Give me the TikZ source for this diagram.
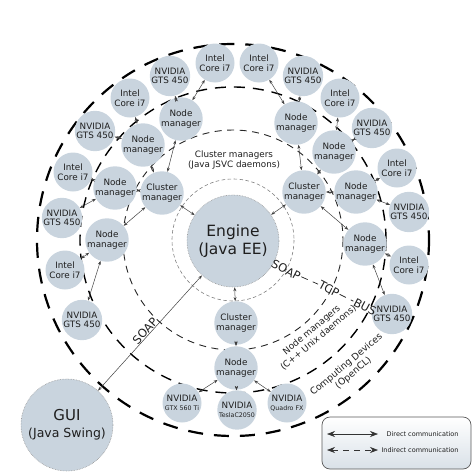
\documentclass[tikz,border=0pt]{standalone}
\usepackage{fontspec}
\setmainfont{DejaVu Sans}
\usetikzlibrary{arrows.meta}
\definecolor{nfill}{HTML}{C9D4DE}
\definecolor{txt}{HTML}{1E1E1E}
\begin{document}
\begin{tikzpicture}[x=1pt,y=-1pt,
  dev/.style={circle,fill=nfill,minimum size=39pt,inner sep=0pt,align=center,text=txt,font=\fontsize{8.8}{9.6}\selectfont},
  big/.style={circle,fill=nfill,draw=gray!80,densely dotted,line width=0.6pt,minimum size=92pt,inner sep=0pt,align=center,text=txt},
  link/.style={draw=black!75,line width=0.5pt,{Stealth[length=4pt,width=3pt]}-{Stealth[length=4pt,width=3pt]}},
  legarrow/.style={draw=black!80,line width=0.6pt,{Stealth[length=8pt,width=6pt]}-{Stealth[length=8pt,width=6pt]}},
  ringA/.style={draw=gray,line width=0.6pt,dash pattern=on 3.5pt off 2.5pt},
  ringB/.style={draw=black!85,line width=0.9pt,dash pattern=on 7pt off 5.5pt},
  ringC/.style={draw=black,line width=1.4pt,dash pattern=on 11pt off 8pt},
  ringD/.style={draw=black,line width=2.2pt,dash pattern=on 15pt off 11pt},
  lbl/.style={text=txt,font=\fontsize{11.5}{13}\selectfont,inner sep=1pt},
  rlabel/.style={text=txt,align=center,font=\fontsize{9}{10.5}\selectfont}
]
\useasboundingbox (0,0) rectangle (474,474);

% rings
\coordinate (c0) at (233,240);
\draw[ringA] (c0) circle[radius=61];
\draw[ringB] (c0) circle[radius=110];
\draw[ringC] (c0) circle[radius=153];
\draw[ringD] (c0) circle[radius=196];

% engine and GUI
\node[big,font=\fontsize{15.5}{18}\selectfont] (eng) at (233,241) {Engine\\(Java EE)};
\node[big,font=\fontsize{12.5}{17}\selectfont] (gui) at (67,425) {{\fontsize{15}{17}\selectfont GUI}\\(Java Swing)};

% cluster managers
\node[dev] (cmL) at (162,193) {Cluster\\manager};
\node[dev] (cmR) at (304,192) {Cluster\\manager};
\node[dev] (cmB) at (236,323) {Cluster\\manager};

% node managers
\node[dev] (nm1) at (181,119) {Node\\manager};
\node[dev] (nm2) at (143,145) {Node\\manager};
\node[dev] (nm3) at (115,188) {Node\\manager};
\node[dev] (nm4) at (107,240) {Node\\manager};
\node[dev] (nm5) at (296,123) {Node\\manager};
\node[dev] (nm6) at (334,152) {Node\\manager};
\node[dev] (nm7) at (356,192) {Node\\manager};
\node[dev] (nm8) at (365,244) {Node\\manager};
\node[dev] (nm9) at (236,368) {Node\\manager};

% devices
\node[dev] (d1a) at (215,63) {Intel\\Core i7};
\node[dev] (d1b) at (170,76) {NVIDIA\\GTS 450};
\node[dev] (d2a) at (130,98) {Intel\\Core i7};
\node[dev] (d2b) at (95,131) {NVIDIA\\GTS 450};
\node[dev] (d3a) at (73,172) {Intel\\Core i7};
\node[dev] (d3b) at (62,218) {NVIDIA\\GTS 450};
\node[dev] (d4a) at (65,270) {Intel\\Core i7};
\node[dev] (d4b) at (82,320) {NVIDIA\\GTS 450};
\node[dev] (d5a) at (259,63) {Intel\\Core i7};
\node[dev] (d5b) at (303,76) {NVIDIA\\GTS 450};
\node[dev] (d6a) at (340,98) {Intel\\Core i7};
\node[dev] (d6b) at (372,128) {NVIDIA\\GTS 450};
\node[dev] (d7a) at (397,168) {Intel\\Core i7};
\node[dev] (d7b) at (409,212) {NVIDIA\\GTS 450};
\node[dev] (d8a) at (409,265) {Intel\\Core i7};
\node[dev] (d8b) at (392,314) {NVIDIA\\GTS 450};
\node[dev] (d9a) at (182,403) {NVIDIA\\{\fontsize{6.3}{7}\selectfont GTX 560 Ti}};
\node[dev] (d9b) at (237,410) {NVIDIA\\{\fontsize{6.3}{7}\selectfont TeslaC2050}};
\node[dev] (d9c) at (287,403) {NVIDIA\\{\fontsize{6.3}{7}\selectfont Quadro FX}};

% links
\draw[link] (gui) -- (eng);
\foreach \c in {cmL,cmR,cmB} \draw[link] (eng) -- (\c);
\foreach \n in {nm1,nm2,nm3,nm4} \draw[link] (cmL) -- (\n);
\foreach \n in {nm5,nm6,nm7,nm8} \draw[link] (cmR) -- (\n);
\draw[link] (cmB) -- (nm9);
\foreach \n/\a/\b in {nm1/d1a/d1b,nm2/d2a/d2b,nm3/d3a/d3b,nm4/d4a/d4b,nm5/d5a/d5b,nm6/d6a/d6b,nm7/d7a/d7b,nm8/d8a/d8b}{
  \draw[link] (\n) -- (\a);
  \draw[link] (\n) -- (\b);
}
\foreach \d in {d9a,d9b,d9c} \draw[link] (nm9) -- (\d);

% labels
\node[text=txt,align=center,font=\fontsize{8.8}{9.8}\selectfont] (cmtxt) at (234,160) {Cluster managers\\(Java JSVC daemons)};
\node[rlabel,rotate=40] (nmtxt) at (315,334) {Node managers\\(C++ Unix daemons)};
\node[rlabel,font=\fontsize{9.3}{11}\selectfont,rotate=40] (cdtxt) at (350,369) {Computing Devices\\(OpenCL)};
\node[lbl,rotate=48] (soap1) at (145,331) {SOAP};
\node[lbl,rotate=-28] (soap2) at (286,270) {SOAP};
\node[lbl,rotate=-28] (tcp) at (329,289) {TCP};
\node[lbl,rotate=-28] (bus) at (365,307) {BUS};
\draw[ringB,line width=0.7pt] (soap2) -- (tcp);
\draw[ringB,line width=0.7pt] (tcp) -- (bus);

% legend
\node[draw=black!65,rounded corners=8pt,top color=white,bottom color=nfill!70,minimum width=149pt,minimum height=52pt,line width=0.7pt] (leg) at (396.5,443) {};
\coordinate (l1a) at (327,434);
\coordinate (l1b) at (378,434);
\coordinate (l2a) at (327,450);
\coordinate (l2b) at (378,450);
\draw[legarrow] (l1a) -- (l1b);
\draw[legarrow,dash pattern=on 6pt off 5pt] (l2a) -- (l2b);
\node[anchor=east,text=txt,font=\fontsize{6.5}{7}\selectfont] (t1) at (462,434) {Direct communication};
\node[anchor=east,text=txt,font=\fontsize{6.5}{7}\selectfont] (t2) at (462,450) {Indirect communication};
\end{tikzpicture}
\end{document}
